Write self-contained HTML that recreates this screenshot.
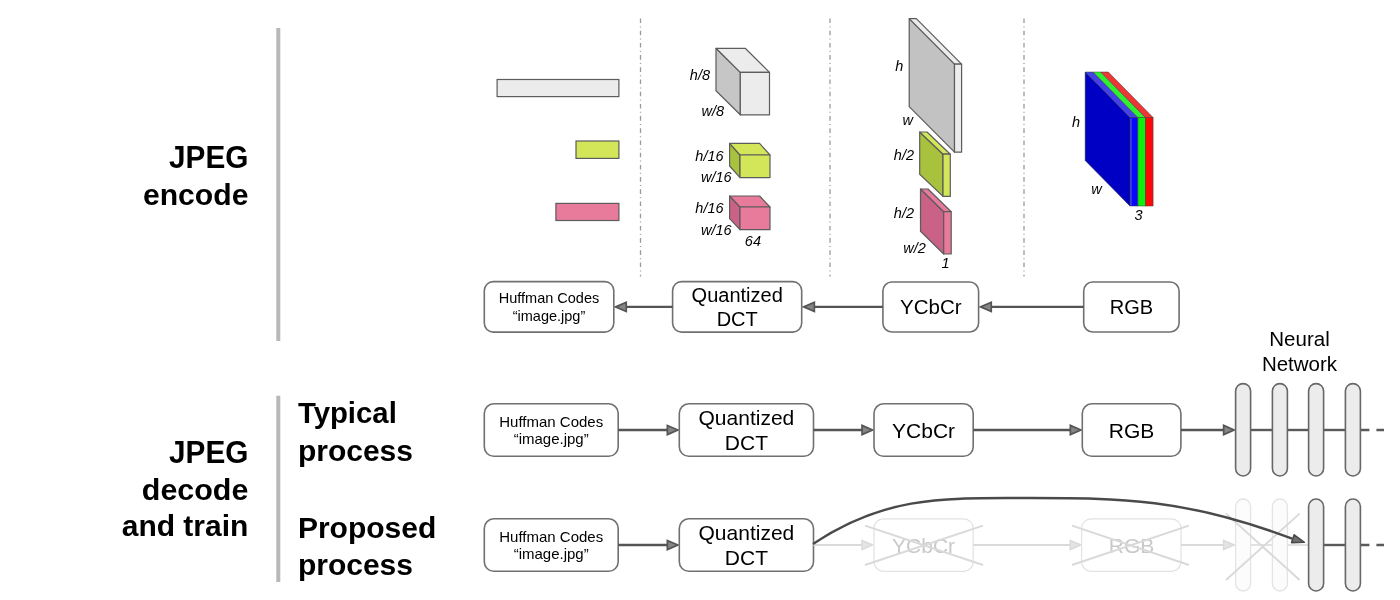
<!DOCTYPE html>
<html><head><meta charset="utf-8"><style>
html,body{margin:0;padding:0;background:#fff;width:1400px;height:600px;overflow:hidden}
svg{display:block;font-family:"Liberation Sans", sans-serif;will-change:transform}
</style></head><body>
<svg width="1400" height="600" viewBox="0 0 1400 600">
<rect x="276.3" y="28" width="4" height="313" fill="#b8b8b8"/>
<rect x="276.3" y="395.7" width="4" height="186.3" fill="#b8b8b8"/>
<text transform="translate(248.4,168.2) scale(1,1.07)" x="0" y="0" font-size="30" text-anchor="end" font-weight="bold" font-style="normal" fill="#000" textLength="79.4" lengthAdjust="spacingAndGlyphs">JPEG</text>
<text x="248.4" y="204.5" font-size="30" text-anchor="end" font-weight="bold" font-style="normal" fill="#000" textLength="105.5" lengthAdjust="spacingAndGlyphs">encode</text>
<text transform="translate(248.4,463) scale(1,1.07)" x="0" y="0" font-size="30" text-anchor="end" font-weight="bold" font-style="normal" fill="#000" textLength="79.4" lengthAdjust="spacingAndGlyphs">JPEG</text>
<text x="248.4" y="500" font-size="30" text-anchor="end" font-weight="bold" font-style="normal" fill="#000" textLength="106.6" lengthAdjust="spacingAndGlyphs">decode</text>
<text x="248.4" y="536" font-size="30" text-anchor="end" font-weight="bold" font-style="normal" fill="#000">and train</text>
<text x="297.9" y="423.3" font-size="30" text-anchor="start" font-weight="bold" font-style="normal" fill="#000" textLength="98.9" lengthAdjust="spacingAndGlyphs">Typical</text>
<text x="297.9" y="461" font-size="30" text-anchor="start" font-weight="bold" font-style="normal" fill="#000">process</text>
<text x="297.9" y="538.3" font-size="30" text-anchor="start" font-weight="bold" font-style="normal" fill="#000">Proposed</text>
<text x="297.9" y="575" font-size="30" text-anchor="start" font-weight="bold" font-style="normal" fill="#000">process</text>
<line x1="640.5" y1="18.5" x2="640.5" y2="276.5" stroke="#9a9a9a" stroke-width="1.3" stroke-dasharray="4.6 3.3 1 3.3"/>
<line x1="830" y1="18.5" x2="830" y2="276.5" stroke="#9a9a9a" stroke-width="1.3" stroke-dasharray="4.6 3.3 1 3.3"/>
<line x1="1024" y1="18.5" x2="1024" y2="276.5" stroke="#9a9a9a" stroke-width="1.3" stroke-dasharray="4.6 3.3 1 3.3"/>
<rect x="497.1" y="79.5" width="121.8" height="17.1" fill="#ececec" stroke="#5c5c5c" stroke-width="1.2"/>
<rect x="576" y="141" width="42.9" height="17.4" fill="#d3e65a" stroke="#5c5c5c" stroke-width="1.2"/>
<rect x="555.9" y="203.4" width="63" height="17.1" fill="#e87a9c" stroke="#5c5c5c" stroke-width="1.2"/>
<polygon points="716,48.3 740.3,72.4 740.3,114.80000000000001 716,90.69999999999999" fill="#c6c6c6" stroke="#5c5c5c" stroke-width="1.2" stroke-linejoin="round"/>
<polygon points="716,48.3 745.2,48.3 769.5,72.4 740.3,72.4" fill="#ececec" stroke="#5c5c5c" stroke-width="1.2" stroke-linejoin="round"/>
<polygon points="740.3,72.4 769.5,72.4 769.5,114.80000000000001 740.3,114.80000000000001" fill="#ececec" stroke="#5c5c5c" stroke-width="1.2" stroke-linejoin="round"/>
<polygon points="729.6,143.4 740.0,155.0 740.0,177.6 729.6,166.0" fill="#a9c23e" stroke="#5c5c5c" stroke-width="1.2" stroke-linejoin="round"/>
<polygon points="729.6,143.4 759.6,143.4 770.0,155.0 740.0,155.0" fill="#d3e65a" stroke="#5c5c5c" stroke-width="1.2" stroke-linejoin="round"/>
<polygon points="740.0,155.0 770.0,155.0 770.0,177.6 740.0,177.6" fill="#d3e65a" stroke="#5c5c5c" stroke-width="1.2" stroke-linejoin="round"/>
<polygon points="729.6,196 740.0,207.0 740.0,229.7 729.6,218.7" fill="#c96286" stroke="#5c5c5c" stroke-width="1.2" stroke-linejoin="round"/>
<polygon points="729.6,196 759.6,196 770.0,207.0 740.0,207.0" fill="#e87a9c" stroke="#5c5c5c" stroke-width="1.2" stroke-linejoin="round"/>
<polygon points="740.0,207.0 770.0,207.0 770.0,229.7 740.0,229.7" fill="#e87a9c" stroke="#5c5c5c" stroke-width="1.2" stroke-linejoin="round"/>
<text x="710" y="79.5" font-size="14.5" text-anchor="end" font-weight="normal" font-style="italic" fill="#000">h/8</text>
<text x="724.2" y="116.2" font-size="14.5" text-anchor="end" font-weight="normal" font-style="italic" fill="#000">w/8</text>
<text x="723.6" y="161" font-size="14.5" text-anchor="end" font-weight="normal" font-style="italic" fill="#000">h/16</text>
<text x="731.6" y="182" font-size="14.5" text-anchor="end" font-weight="normal" font-style="italic" fill="#000">w/16</text>
<text x="723.6" y="213" font-size="14.5" text-anchor="end" font-weight="normal" font-style="italic" fill="#000">h/16</text>
<text x="731.6" y="235" font-size="14.5" text-anchor="end" font-weight="normal" font-style="italic" fill="#000">w/16</text>
<text x="761" y="246" font-size="14.5" text-anchor="end" font-weight="normal" font-style="italic" fill="#000">64</text>
<polygon points="909.2,18.7 954.5,64.2 954.5,152.2 909.2,106.7" fill="#c2c2c2" stroke="#5c5c5c" stroke-width="1.2" stroke-linejoin="round"/>
<polygon points="909.2,18.7 916.3000000000001,18.7 961.6,64.2 954.5,64.2" fill="#ececec" stroke="#5c5c5c" stroke-width="1.2" stroke-linejoin="round"/>
<polygon points="954.5,64.2 961.6,64.2 961.6,152.2 954.5,152.2" fill="#ececec" stroke="#5c5c5c" stroke-width="1.2" stroke-linejoin="round"/>
<polygon points="920.5,189 943.7,211.7 943.7,254.0 920.5,231.3" fill="#c96286" stroke="#5c5c5c" stroke-width="1.2" stroke-linejoin="round"/>
<polygon points="920.5,189 928.0,189 951.2,211.7 943.7,211.7" fill="#e87a9c" stroke="#5c5c5c" stroke-width="1.2" stroke-linejoin="round"/>
<polygon points="943.7,211.7 951.2,211.7 951.2,254.0 943.7,254.0" fill="#e87a9c" stroke="#5c5c5c" stroke-width="1.2" stroke-linejoin="round"/>
<polygon points="919.7,132 943.0,154.2 943.0,196.39999999999998 919.7,174.2" fill="#a9c23e" stroke="#5c5c5c" stroke-width="1.2" stroke-linejoin="round"/>
<polygon points="919.7,132 927.0,132 950.3,154.2 943.0,154.2" fill="#d3e65a" stroke="#5c5c5c" stroke-width="1.2" stroke-linejoin="round"/>
<polygon points="943.0,154.2 950.3,154.2 950.3,196.39999999999998 943.0,196.39999999999998" fill="#d3e65a" stroke="#5c5c5c" stroke-width="1.2" stroke-linejoin="round"/>
<text x="903.3" y="70.8" font-size="14.5" text-anchor="end" font-weight="normal" font-style="italic" fill="#000">h</text>
<text x="913" y="125" font-size="14.5" text-anchor="end" font-weight="normal" font-style="italic" fill="#000">w</text>
<text x="914" y="160" font-size="14.5" text-anchor="end" font-weight="normal" font-style="italic" fill="#000">h/2</text>
<text x="914" y="217.5" font-size="14.5" text-anchor="end" font-weight="normal" font-style="italic" fill="#000">h/2</text>
<text x="925.8" y="252.5" font-size="14.5" text-anchor="end" font-weight="normal" font-style="italic" fill="#000">w/2</text>
<text x="949.6" y="268.3" font-size="14.5" text-anchor="end" font-weight="normal" font-style="italic" fill="#000">1</text>
<polygon points="1085.3,72 1130.1,117.5 1130.1,206.0 1085.3,160.5" fill="#0000c4" stroke="#1a1a60" stroke-width="0.8"/>
<polygon points="1085.30,72 1093.10,72 1137.90,117.5 1130.10,117.5" fill="#4242e8" stroke="#3a3a3a" stroke-width="0.7" stroke-opacity="0.7"/>
<rect x="1130.10" y="117.5" width="7.80" height="88.5" fill="#0808ff" stroke="#3a3a3a" stroke-width="0.7" stroke-opacity="0.7"/>
<polygon points="1093.10,72 1100.70,72 1145.50,117.5 1137.90,117.5" fill="#30ee30" stroke="#3a3a3a" stroke-width="0.7" stroke-opacity="0.7"/>
<rect x="1137.90" y="117.5" width="7.60" height="88.5" fill="#0cf00c" stroke="#3a3a3a" stroke-width="0.7" stroke-opacity="0.7"/>
<polygon points="1100.70,72 1108.30,72 1153.10,117.5 1145.50,117.5" fill="#ee3636" stroke="#3a3a3a" stroke-width="0.7" stroke-opacity="0.7"/>
<rect x="1145.50" y="117.5" width="7.60" height="88.5" fill="#ff0808" stroke="#3a3a3a" stroke-width="0.7" stroke-opacity="0.7"/>
<line x1="1131.00" y1="118.5" x2="1131.00" y2="205.5" stroke="#4a4ad8" stroke-width="1.4"/>
<text x="1080" y="127" font-size="14.5" text-anchor="end" font-weight="normal" font-style="italic" fill="#000">h</text>
<text x="1101.7" y="194" font-size="14.5" text-anchor="end" font-weight="normal" font-style="italic" fill="#000">w</text>
<text x="1142.5" y="220" font-size="14.5" text-anchor="end" font-weight="normal" font-style="italic" fill="#000">3</text>
<rect x="484.3" y="281.6" width="129.50" height="50.50" rx="9" ry="9" fill="#fff" stroke="#707070" stroke-width="1.6"/>
<rect x="672.6" y="281.6" width="129.10" height="50.50" rx="9" ry="9" fill="#fff" stroke="#707070" stroke-width="1.6"/>
<rect x="882.9" y="282" width="95.70" height="50.00" rx="9" ry="9" fill="#fff" stroke="#707070" stroke-width="1.6"/>
<rect x="1083.7" y="282" width="95.40" height="50.00" rx="9" ry="9" fill="#fff" stroke="#707070" stroke-width="1.6"/>
<text x="549" y="303.4" font-size="14.5" text-anchor="middle" font-weight="normal" font-style="normal" fill="#000">Huffman Codes</text>
<text x="549" y="320.5" font-size="14.5" text-anchor="middle" font-weight="normal" font-style="normal" fill="#000">“image.jpg”</text>
<text x="737.2" y="301.9" font-size="20" text-anchor="middle" font-weight="normal" font-style="normal" fill="#000">Quantized</text>
<text x="737.2" y="325.9" font-size="20" text-anchor="middle" font-weight="normal" font-style="normal" fill="#000">DCT</text>
<text x="930.8" y="314" font-size="20.5" text-anchor="middle" font-weight="normal" font-style="normal" fill="#000">YCbCr</text>
<text x="1131.4" y="314" font-size="20" text-anchor="middle" font-weight="normal" font-style="normal" fill="#000">RGB</text>
<line x1="672.6" y1="306.9" x2="626.25" y2="306.9" stroke="#555" stroke-width="2.4"/>
<polygon points="615.6999999999999,306.9 626.25,302.29999999999995 626.25,311.5" fill="#858585" stroke="#555" stroke-width="1.7" stroke-linejoin="miter"/>
<line x1="882.9" y1="306.9" x2="814.35" y2="306.9" stroke="#555" stroke-width="2.4"/>
<polygon points="803.8,306.9 814.35,302.29999999999995 814.35,311.5" fill="#858585" stroke="#555" stroke-width="1.7" stroke-linejoin="miter"/>
<line x1="1083.7" y1="306.9" x2="991.25" y2="306.9" stroke="#555" stroke-width="2.4"/>
<polygon points="980.6999999999999,306.9 991.25,302.29999999999995 991.25,311.5" fill="#858585" stroke="#555" stroke-width="1.7" stroke-linejoin="miter"/>
<rect x="484.3" y="403.8" width="133.90" height="52.50" rx="9.5" ry="9.5" fill="#fff" stroke="#707070" stroke-width="1.6"/>
<text x="551.2" y="426.6" font-size="15" text-anchor="middle" font-weight="normal" font-style="normal" fill="#000">Huffman Codes</text>
<text x="551.2" y="444.1" font-size="15" text-anchor="middle" font-weight="normal" font-style="normal" fill="#000">“image.jpg”</text>
<line x1="618.2" y1="430.05" x2="667.3499999999999" y2="430.05" stroke="#555" stroke-width="2.4"/>
<polygon points="677.9,430.05 667.3499999999999,425.45 667.3499999999999,434.65000000000003" fill="#858585" stroke="#555" stroke-width="1.7" stroke-linejoin="miter"/>
<rect x="679.3" y="403.8" width="134.20" height="52.50" rx="9.5" ry="9.5" fill="#fff" stroke="#707070" stroke-width="1.6"/>
<text x="746.4" y="425.2" font-size="21" text-anchor="middle" font-weight="normal" font-style="normal" fill="#000">Quantized</text>
<text x="746.4" y="449.90000000000003" font-size="21" text-anchor="middle" font-weight="normal" font-style="normal" fill="#000">DCT</text>
<line x1="813.5" y1="430" x2="862.05" y2="430" stroke="#555" stroke-width="2.4"/>
<polygon points="872.6,430 862.05,425.4 862.05,434.6" fill="#858585" stroke="#555" stroke-width="1.7" stroke-linejoin="miter"/>
<rect x="874" y="403.8" width="99.20" height="52.50" rx="9.5" ry="9.5" fill="#fff" stroke="#707070" stroke-width="1.6"/>
<text x="923.6" y="437.6" font-size="21" text-anchor="middle" font-weight="normal" font-style="normal" fill="#000">YCbCr</text>
<line x1="973.2" y1="430" x2="1070.35" y2="430" stroke="#555" stroke-width="2.4"/>
<polygon points="1080.8999999999999,430 1070.35,425.4 1070.35,434.6" fill="#858585" stroke="#555" stroke-width="1.7" stroke-linejoin="miter"/>
<rect x="1082.3" y="403.8" width="98.60" height="52.50" rx="9.5" ry="9.5" fill="#fff" stroke="#707070" stroke-width="1.6"/>
<text x="1131.6" y="437.6" font-size="21" text-anchor="middle" font-weight="normal" font-style="normal" fill="#000">RGB</text>
<line x1="1180.9" y1="430" x2="1223.6499999999999" y2="430" stroke="#555" stroke-width="2.4"/>
<polygon points="1234.1999999999998,430 1223.6499999999999,425.4 1223.6499999999999,434.6" fill="#858585" stroke="#555" stroke-width="1.7" stroke-linejoin="miter"/>
<line x1="1250.6" y1="430" x2="1272.4" y2="430" stroke="#5a5a5a" stroke-width="2.4"/>
<line x1="1287.4" y1="430" x2="1308.6" y2="430" stroke="#5a5a5a" stroke-width="2.4"/>
<line x1="1323.6" y1="430" x2="1345.4" y2="430" stroke="#5a5a5a" stroke-width="2.4"/>
<line x1="1360.4" y1="430" x2="1384" y2="430" stroke="#5a5a5a" stroke-width="2.4" stroke-dasharray="9 7"/>
<rect x="1235.6" y="383.6" width="15" height="92.39999999999998" rx="7.5" ry="7.5" fill="#ececec" stroke="#676767" stroke-width="1.6"/>
<rect x="1272.4" y="383.6" width="15" height="92.39999999999998" rx="7.5" ry="7.5" fill="#ececec" stroke="#676767" stroke-width="1.6"/>
<rect x="1308.6" y="383.6" width="15" height="92.39999999999998" rx="7.5" ry="7.5" fill="#ececec" stroke="#676767" stroke-width="1.6"/>
<rect x="1345.4" y="383.6" width="15" height="92.39999999999998" rx="7.5" ry="7.5" fill="#ececec" stroke="#676767" stroke-width="1.6"/>
<text x="1299.5" y="345.5" font-size="20.5" text-anchor="middle" font-weight="normal" font-style="normal" fill="#000">Neural</text>
<text x="1299.5" y="370.5" font-size="20.5" text-anchor="middle" font-weight="normal" font-style="normal" fill="#000">Network</text>
<rect x="484.3" y="518.8" width="133.90" height="52.50" rx="9.5" ry="9.5" fill="#fff" stroke="#707070" stroke-width="1.6"/>
<text x="551.2" y="541.5999999999999" font-size="15" text-anchor="middle" font-weight="normal" font-style="normal" fill="#000">Huffman Codes</text>
<text x="551.2" y="559.0999999999999" font-size="15" text-anchor="middle" font-weight="normal" font-style="normal" fill="#000">“image.jpg”</text>
<line x1="618.2" y1="545.05" x2="667.3499999999999" y2="545.05" stroke="#555" stroke-width="2.4"/>
<polygon points="677.9,545.05 667.3499999999999,540.4499999999999 667.3499999999999,549.65" fill="#858585" stroke="#555" stroke-width="1.7" stroke-linejoin="miter"/>
<rect x="679.3" y="518.8" width="134.20" height="52.50" rx="9.5" ry="9.5" fill="#fff" stroke="#707070" stroke-width="1.6"/>
<text x="746.4" y="540.1999999999999" font-size="21" text-anchor="middle" font-weight="normal" font-style="normal" fill="#000">Quantized</text>
<text x="746.4" y="564.9" font-size="21" text-anchor="middle" font-weight="normal" font-style="normal" fill="#000">DCT</text>
<line x1="813.5" y1="545" x2="861.9" y2="545" stroke="#dadada" stroke-width="2.2"/>
<polygon points="872.6,545 861.9,540.4 861.9,549.6" fill="#e4e4e4" stroke="#dadada" stroke-width="1.4" stroke-linejoin="miter"/>
<rect x="874" y="518.8" width="99.20" height="52.50" rx="9.5" ry="9.5" fill="#fff" stroke="#e2e2e2" stroke-width="1.2"/>
<text x="923.6" y="552.6" font-size="21" text-anchor="middle" font-weight="normal" font-style="normal" fill="#c9c9c9">YCbCr</text>
<line x1="973.2" y1="545" x2="1070.2" y2="545" stroke="#dadada" stroke-width="2.2"/>
<polygon points="1080.8999999999999,545 1070.2,540.4 1070.2,549.6" fill="#e4e4e4" stroke="#dadada" stroke-width="1.4" stroke-linejoin="miter"/>
<rect x="1081.6" y="518.8" width="99.40" height="52.50" rx="9.5" ry="9.5" fill="#fff" stroke="#e2e2e2" stroke-width="1.2"/>
<text x="1131.6" y="552.6" font-size="21" text-anchor="middle" font-weight="normal" font-style="normal" fill="#c9c9c9">RGB</text>
<line x1="1181" y1="545" x2="1223.5" y2="545" stroke="#dadada" stroke-width="2.2"/>
<polygon points="1234.1999999999998,545 1223.5,540.4 1223.5,549.6" fill="#e4e4e4" stroke="#dadada" stroke-width="1.4" stroke-linejoin="miter"/>
<line x1="1250" y1="545" x2="1272.4" y2="545" stroke="#e2e2e2" stroke-width="2"/>
<line x1="1287" y1="545" x2="1308.6" y2="545" stroke="#e2e2e2" stroke-width="2"/>
<rect x="1235.6" y="499" width="15" height="92" rx="7.5" ry="7.5" fill="#fcfcfc" stroke="#e4e4e4" stroke-width="1.3"/>
<rect x="1272.4" y="499" width="15" height="92" rx="7.5" ry="7.5" fill="#fcfcfc" stroke="#e4e4e4" stroke-width="1.3"/>
<line x1="865" y1="525.6" x2="983" y2="565" stroke="#d9d9d9" stroke-width="1.9"/>
<line x1="865" y1="565" x2="983" y2="525.6" stroke="#d9d9d9" stroke-width="1.9"/>
<line x1="1072" y1="525.6" x2="1189" y2="565" stroke="#d9d9d9" stroke-width="1.9"/>
<line x1="1072" y1="565" x2="1189" y2="525.6" stroke="#d9d9d9" stroke-width="1.9"/>
<line x1="1226" y1="580" x2="1299.6" y2="513.6" stroke="#d9d9d9" stroke-width="1.9"/>
<line x1="1226" y1="513.6" x2="1299.6" y2="580" stroke="#d9d9d9" stroke-width="1.9"/>
<line x1="1323.6" y1="545" x2="1345.4" y2="545" stroke="#5a5a5a" stroke-width="2.4"/>
<line x1="1360.4" y1="545" x2="1384" y2="545" stroke="#5a5a5a" stroke-width="2.4" stroke-dasharray="9 7"/>
<rect x="1308.6" y="499" width="15" height="92" rx="7.5" ry="7.5" fill="#ececec" stroke="#676767" stroke-width="1.6"/>
<rect x="1345.4" y="499" width="15" height="92" rx="7.5" ry="7.5" fill="#ececec" stroke="#676767" stroke-width="1.6"/>
<path d="M813,544 C886.4,494.8 945.6,498.1 1030,498.1 C1120.4,498.1 1184.7,498.1 1292.1,538.7" fill="none" stroke="#4a4a4a" stroke-width="2.5"/>
<polygon points="1304.3,542.3 1291.6,542.6 1294.2,534.8" fill="#707070" stroke="#4a4a4a" stroke-width="1.6" stroke-linejoin="round"/>
</svg>
</body></html>
